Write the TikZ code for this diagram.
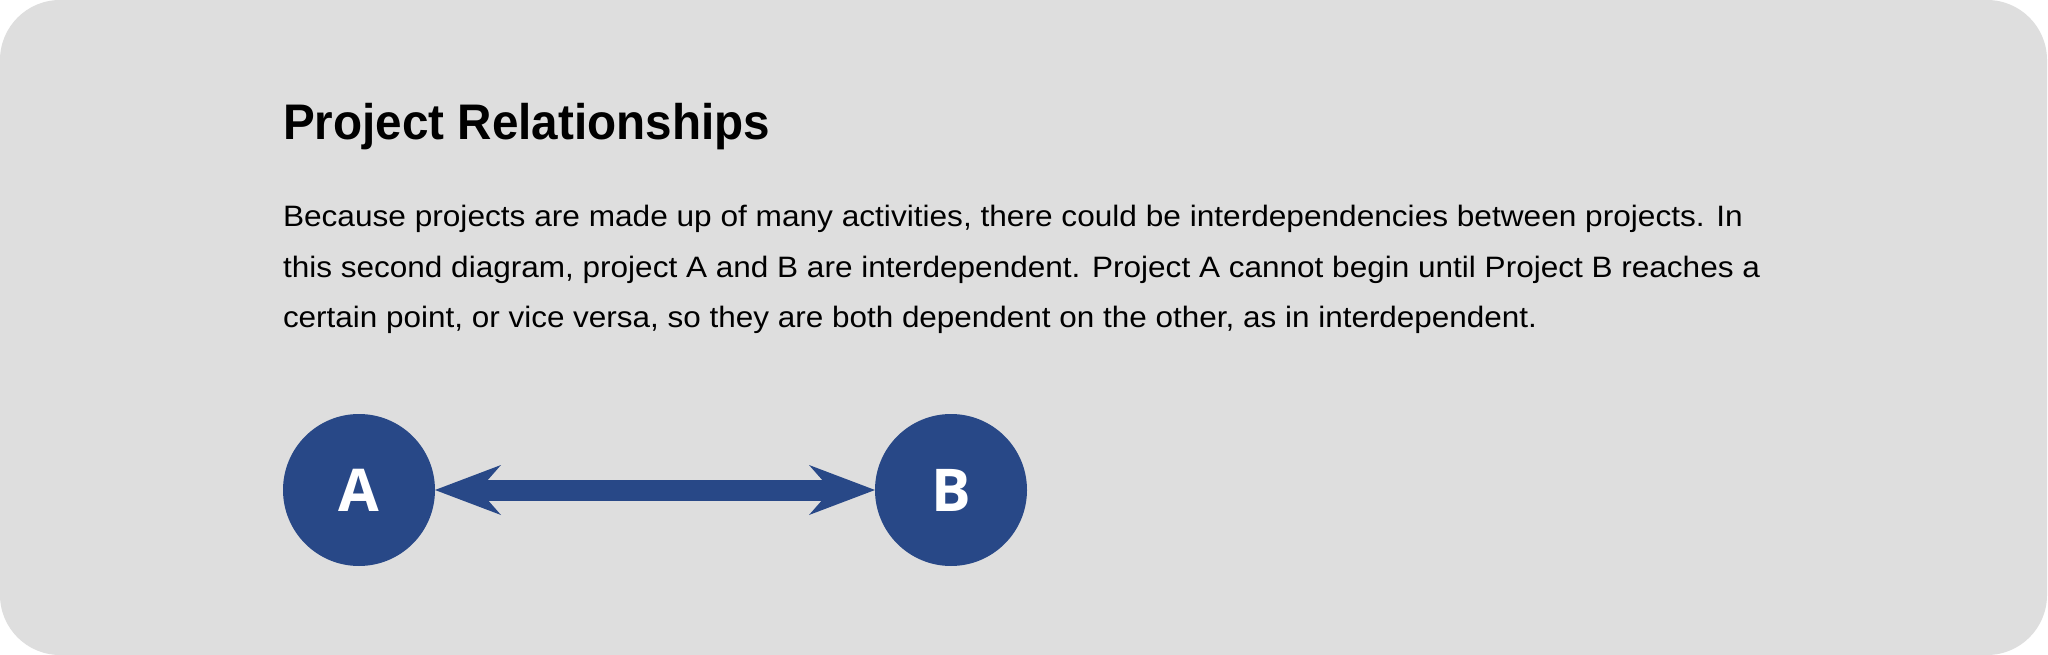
\documentclass[tikz,border=0pt]{standalone}
\usepackage{fontspec}
\setmainfont{Liberation Sans}
\newfontfamily\letterfont{Open Sans}
\usetikzlibrary{arrows.meta}
\definecolor{panelgray}{HTML}{DEDEDE}
\definecolor{navy}{HTML}{284887}
\begin{document}
\begin{tikzpicture}[x=1pt,y=-1pt,
  txt/.style={anchor=base west, inner sep=0pt, outer sep=0pt},
  titlefont/.style={font=\bfseries\fontsize{50pt}{60pt}\selectfont},
  bodyfont/.style={font=\fontsize{29.5pt}{34pt}\selectfont},
  circ/.style={circle, fill=navy, minimum size=152pt, inner sep=0pt, outer sep=0pt, text=white,
    font=\letterfont\bfseries\fontsize{59pt}{59pt}\selectfont},
  link/.style={draw=navy, line width=21pt,
    arrows={Stealth[length=66pt,width=50pt,inset=22pt,line width=0pt]-Stealth[length=66pt,width=50pt,inset=22pt,line width=0pt]}}]
\useasboundingbox (0,0) rectangle (2048,655);
\fill[white] (0,0) rectangle (2048,655);
\fill[panelgray, rounded corners=60pt] (0,0) rectangle (2047,655);
\node[txt, titlefont] (title) at (283,140) {\resizebox{487pt}{\height}{Project Relationships}};
\node[txt, bodyfont] (l1) at (283,227) {\resizebox{1460pt}{\height}{Because projects are made up of many activities, there could be interdependencies between projects. In}};
\node[txt, bodyfont] (l2) at (283,277) {\resizebox{1477pt}{\height}{this second diagram, project A and B are interdependent. Project A cannot begin until Project B reaches a}};
\node[txt, bodyfont] (l3) at (283,327) {\resizebox{1254pt}{\height}{certain point, or vice versa, so they are both dependent on the other, as in interdependent.}};
\node[circ] (A) at (359,490) {A};
\node[circ] (B) at (951,490) {B};
\draw[link] (A) -- (B);
\end{tikzpicture}
\end{document}
